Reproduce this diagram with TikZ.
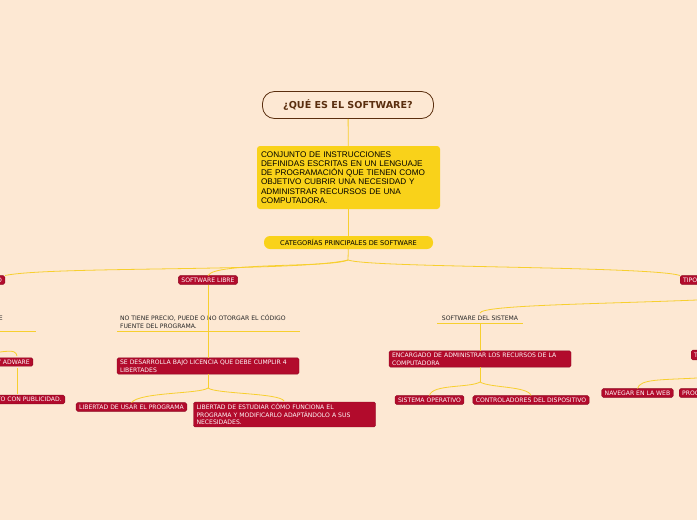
\documentclass[tikz,border=0pt]{standalone}
\usepackage{fontspec}
\setmainfont{DejaVu Sans}
\newfontfamily\arialf{Liberation Sans}
\begin{document}
\begin{tikzpicture}[x=1pt,y=-1pt,
  redbox/.style={fill=redc,draw=redc!80!black,rounded corners=1.5pt,text=white!90!pink,font=\fontsize{6.1}{7.6}\selectfont,inner xsep=3pt,inner ysep=2pt,align=left},
  ybox/.style={fill=yelc,rounded corners=3pt,text=black,align=left},
  plain/.style={font=\fontsize{6.1}{7.6}\selectfont,text=black!85,align=left,inner sep=1pt},
  con/.style={draw=linec,line width=0.8pt}]
\definecolor{redc}{HTML}{B20B2C}
\definecolor{yelc}{HTML}{F9D21A}
\definecolor{linec}{HTML}{F7CF2E}
\definecolor{brownc}{HTML}{5A2E0E}
\definecolor{bgc}{HTML}{FDE8D3}
\useasboundingbox (0,0) rectangle (697,520);
\clip (0,0) rectangle (697,520);
\fill[bgc] (0,0) rectangle (697,520);
\node[draw=brownc,line width=0.8pt,rounded corners=12pt,minimum width=171pt,minimum height=27pt,text=brownc,font=\bfseries\fontsize{9.6}{11}\selectfont] (title) at (348,105) {¿QUÉ ES EL SOFTWARE?};
\node[ybox,font=\arialf\fontsize{8.2}{9.2}\selectfont,text width=175pt,minimum height=63pt,inner sep=4pt] (def) at (348.5,177.5) {CONJUNTO DE INSTRUCCIONES\\DEFINIDAS ESCRITAS EN UN LENGUAJE\\DE PROGRAMACIÓN QUE TIENEN COMO\\OBJETIVO CUBRIR UNA NECESIDAD Y\\ADMINISTRAR RECURSOS DE UNA\\COMPUTADORA.};
\node[ybox,rounded corners=6pt,minimum width=169pt,minimum height=13pt,inner sep=1pt,align=center,font=\fontsize{6.6}{7}\selectfont] (cat) at (348.5,242.5) {CATEGORÍAS PRINCIPALES DE SOFTWARE};
\draw[con] (title) -- (def);
\draw[con] (def) -- (cat);
\node[redbox,anchor=east] (prop) at (5,280) {SOFTWARE PROPIETARIO};
\node[redbox] (libre) at (208,280) {SOFTWARE LIBRE};
\node[redbox,anchor=west] (tipo) at (680,280) {TIPOS DE SOFTWARE};
\coordinate (c0) at (348,260);
\draw[con] (cat) -- (c0);
\draw[con] (c0) .. controls (300,272) and (50,266) .. (prop.north east);
\draw[con] (c0) .. controls (330,268) and (215,262) .. (libre.north);
\draw[con] (c0) .. controls (370,268) and (650,266) .. (tipo.north west);
\node[plain,anchor=east] (ltext) at (4,318) {TIENE COSTE};
\coordinate (lu1) at (0,331); \coordinate (lu2) at (36,331);
\draw[con] (lu1) -- (lu2);
\node[redbox,anchor=east] (adw) at (33,362) {FREEWARE Y ADWARE};
\node[redbox,anchor=east] (pub) at (65,399.5) {SOFTWARE GRATUITO CON PUBLICIDAD.};
\coordinate (lc) at (0,352);
\draw[con] (lc) .. controls (15,350) and (16,352) .. (17,356);
\draw[con] (17,368) -- (17,394);
\node[plain,text width=180pt] (nt) at (210,322) {NO TIENE PRECIO, PUEDE O NO OTORGAR EL CÓDIGO\\FUENTE DEL PROGRAMA.};
\coordinate (u1) at (117,331); \coordinate (u2) at (300,331);
\draw[con] (u1) -- (u2);
\draw[con] (libre) -- (208,331);
\node[redbox,text width=176pt] (des) at (208,366) {SE DESARROLLA BAJO LICENCIA QUE DEBE CUMPLIR 4\\LIBERTADES};
\draw[con] (208,331) -- (des);
\node[redbox] (usar) at (131.5,407) {LIBERTAD DE USAR EL PROGRAMA};
\node[redbox,text width=176pt] (est) at (284.5,414.5) {LIBERTAD DE ESTUDIAR CÓMO FUNCIONA EL\\PROGRAMA Y MODIFICARLO ADAPTÁNDOLO A SUS\\NECESIDADES.};
\coordinate (c1) at (208,388);
\draw[con] (des) -- (c1);
\draw[con] (c1) .. controls (200,394) and (140,392) .. (usar.north);
\draw[con] (c1) .. controls (216,394) and (280,393) .. (284,401);
\node[plain] (sis) at (480,318) {SOFTWARE DEL SISTEMA};
\coordinate (s1) at (437,323); \coordinate (s2) at (523,323);
\draw[con] (s1) -- (s2);
\coordinate (sr) at (697,300);
\draw[con] (sr) .. controls (600,304) and (482,305) .. (480,313);
\node[redbox,text width=176pt] (enc) at (480,359) {ENCARGADO DE ADMINISTRAR LOS RECURSOS DE LA\\COMPUTADORA};
\draw[con] (480,323) -- (enc);
\node[redbox] (so) at (429.5,400) {SISTEMA OPERATIVO};
\node[redbox] (ctrl) at (531,400) {CONTROLADORES DEL DISPOSITIVO};
\coordinate (c2) at (480,382);
\draw[con] (enc) -- (c2);
\draw[con] (c2) .. controls (470,388) and (432,384) .. (so.north);
\draw[con] (c2) .. controls (490,388) and (528,386) .. (ctrl.north);
\node[redbox,anchor=west] (tap) at (691,355) {TIPOS DE SOFTWARE DE APLICACIÓN};
\node[redbox] (nav) at (637.5,393) {NAVEGAR EN LA WEB};
\node[redbox,anchor=west] (proc) at (679,393) {PROCESAR TEXTOS};
\coordinate (rr) at (697,378);
\draw[con] (rr) .. controls (660,380) and (640,379) .. (nav.north);
\end{tikzpicture}
\end{document}
